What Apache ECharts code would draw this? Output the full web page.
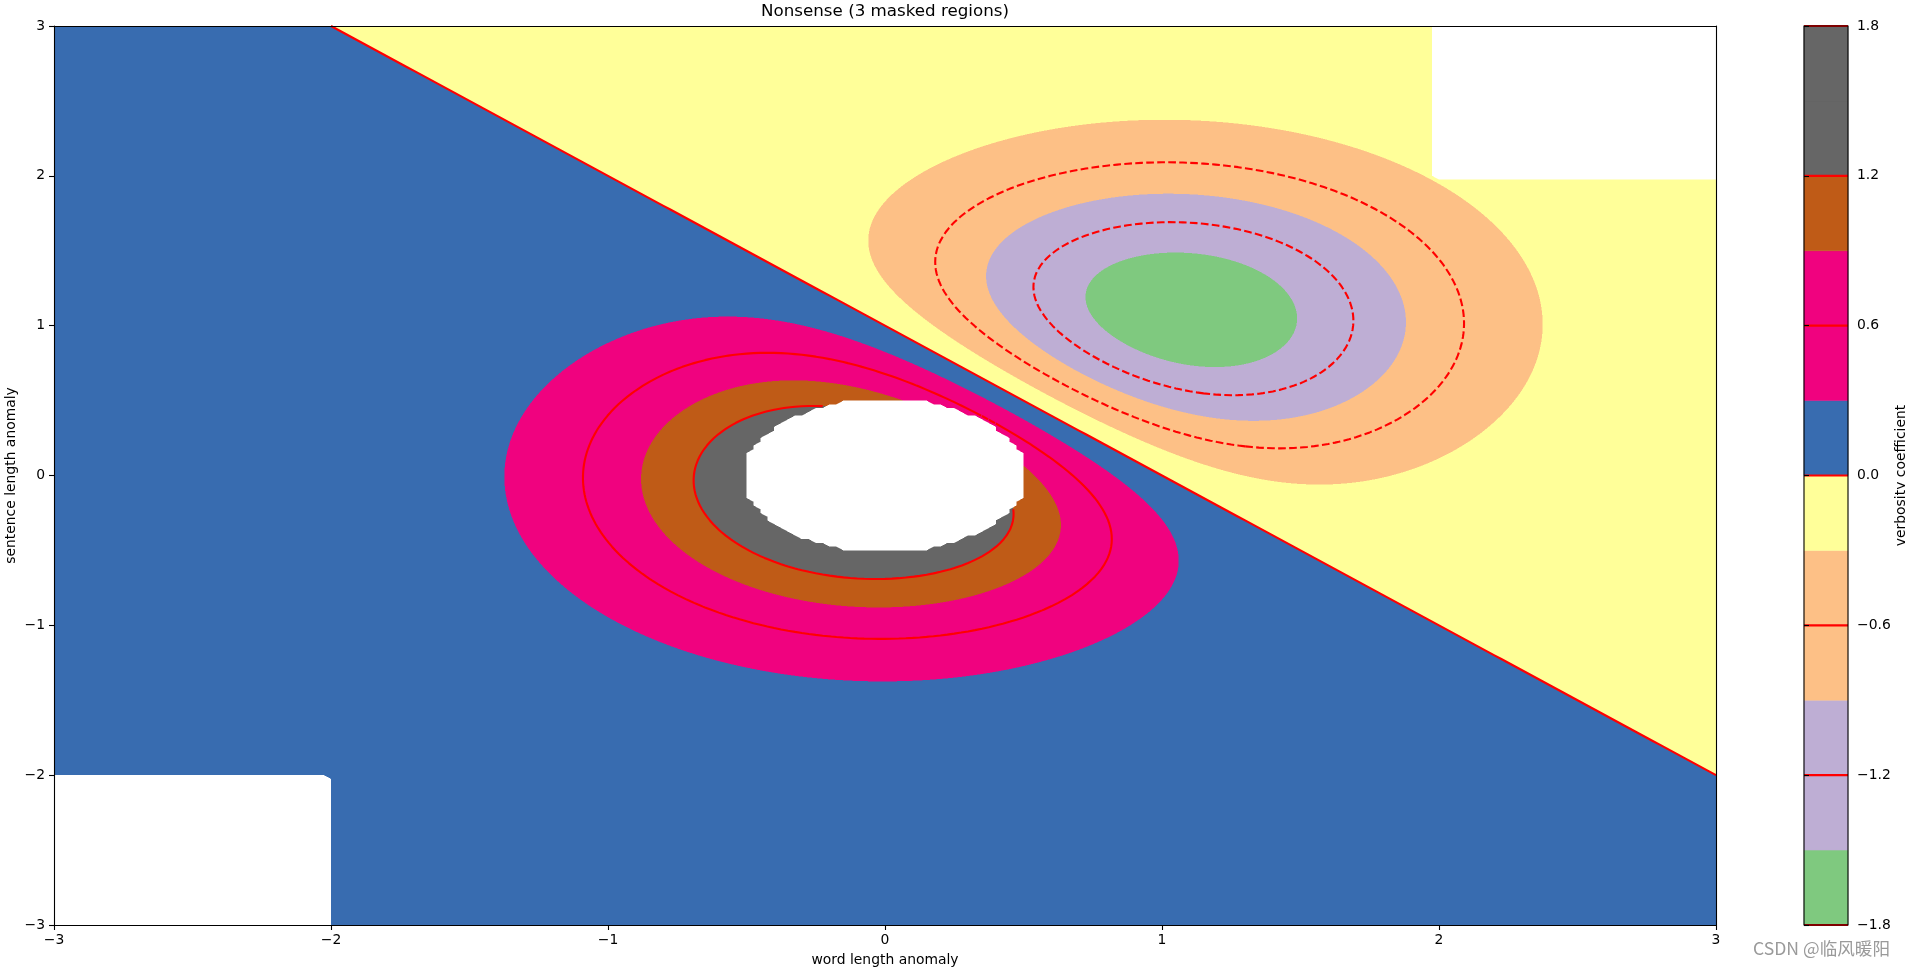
<!DOCTYPE html>
<html>
<head>
<meta charset="utf-8">
<script src="https://cdn.jsdelivr.net/npm/echarts@6/dist/echarts.min.js"></script>
<style>
html,body{margin:0;padding:0;background:#ffffff;}
#chart{width:1905px;height:969px;}
</style>
</head>
<body>
<div id="chart"></div>
<script>
// ---------------- data ----------------
const xTicks = [-3, -2, -1, 0, 1, 2, 3];
const yTicks = [-3, -2, -1, 0, 1, 2, 3];
// field = sum of gaussian bumps: amp * exp(-(x-cx)^2-(y-cy)^2)
const bumpX = [0, 1];
const bumpY = [0, 1];
const bumpAmp = [2, -2];
// sampling grid of the field
const gridStart = -3.0;
const gridStep = 0.025;
const gridCount = 241;
// filled contour levels and colours (Accent)
const fillLevels = [-1.8, -1.5, -1.2, -0.9, -0.6, -0.3, 0.0, 0.3, 0.6, 0.9, 1.2, 1.5, 1.8];
const fillColors = ['#7fc97f', '#beaed4', '#beaed4', '#fdc086', '#fdc086', '#ffff99',
                    '#386cb0', '#f0027f', '#f0027f', '#bf5b17', '#666666', '#666666'];
// line contour levels
const lineLevels = [-1.8, -1.2, -0.6, 0.0, 0.6, 1.2, 1.8];
// masked node regions [xmin, xmax, ymin, ymax] and masked circle [cx, cy, r]
const maskBoxes = [[2.0, 3.0, 2.0, 3.0], [-3.0, -2.025, -3.0, -2.025]];
const maskCircle = [0, 0, 0.5];
const cbarTicks = [-1.8, -1.2, -0.6, 0.0, 0.6, 1.2, 1.8];

// ---------------- field on grid ----------------
const N = gridCount;
const nb = bumpAmp.length;
function gx(i) { return gridStart + i * gridStep; }
function field(x, y) {
  let z = 0;
  for (let k = 0; k < nb; k++) z += bumpAmp[k] * Math.exp(-(x - bumpX[k]) * (x - bumpX[k]) - (y - bumpY[k]) * (y - bumpY[k]));
  return z;
}
const Z = new Float64Array(N * N);
const M = new Uint8Array(N * N);
for (let j = 0; j < N; j++) {
  for (let i = 0; i < N; i++) {
    const x = gx(i), y = gx(j);
    Z[j * N + i] = field(x, y);
    let m = 0;
    for (const b of maskBoxes) {
      if (x >= b[0] - 1e-9 && x <= b[1] + 1e-9 && y >= b[2] - 1e-9 && y <= b[3] + 1e-9) m = 1;
    }
    const dx = x - maskCircle[0], dy = y - maskCircle[1];
    if (Math.sqrt(dx * dx + dy * dy) < maskCircle[2]) m = 1;
    M[j * N + i] = m;
  }
}

// ---------------- contour lines (marching squares) ----------------
function traceLevel(level) {
  const adj = new Map();
  const pt = new Map();
  function addPt(id, xa, ya, za, xb, yb, zb) {
    if (!pt.has(id)) {
      const t = (level - za) / (zb - za);
      pt.set(id, [xa + t * (xb - xa), ya + t * (yb - ya)]);
    }
  }
  function link(p, q) {
    if (!adj.has(p)) adj.set(p, []);
    if (!adj.has(q)) adj.set(q, []);
    adj.get(p).push(q);
    adj.get(q).push(p);
  }
  for (let j = 0; j < N - 1; j++) {
    for (let i = 0; i < N - 1; i++) {
      const a = j * N + i, b = a + 1, c = a + N + 1, d = a + N;
      if (M[a] || M[b] || M[c] || M[d]) continue;
      const za = Z[a], zb = Z[b], zc = Z[c], zd = Z[d];
      const sa = za > level, sb = zb > level, sc = zc > level, sd = zd > level;
      const code = (sa ? 1 : 0) | (sb ? 2 : 0) | (sc ? 4 : 0) | (sd ? 8 : 0);
      if (code === 0 || code === 15) continue;
      const xa = gx(i), xb = gx(i + 1), ya = gx(j), yd = gx(j + 1);
      const eB = a * 2, eR = b * 2 + 1, eT = d * 2, eL = a * 2 + 1;
      const E = [];
      if (sa !== sb) { addPt(eB, xa, ya, za, xb, ya, zb); E.push(eB); }
      if (sb !== sc) { addPt(eR, xb, ya, zb, xb, yd, zc); E.push(eR); }
      if (sc !== sd) { addPt(eT, xa, yd, zd, xb, yd, zc); E.push(eT); }
      if (sd !== sa) { addPt(eL, xa, ya, za, xa, yd, zd); E.push(eL); }
      if (E.length === 2) { link(E[0], E[1]); }
      else if (E.length === 4) {
        const centerAbove = (za + zb + zc + zd) / 4 > level;
        if ((code === 5) === centerAbove) { link(eB, eR); link(eT, eL); }
        else { link(eL, eB); link(eR, eT); }
      }
    }
  }
  const visited = new Set();
  const lines = [];
  function walk(start) {
    const ids = [start];
    visited.add(start);
    let cur = start;
    while (true) {
      const nbs = adj.get(cur);
      let next = -1;
      for (const k of nbs) if (!visited.has(k)) { next = k; break; }
      if (next < 0) {
        if (ids.length > 2 && nbs.indexOf(start) >= 0) ids.push(start);
        break;
      }
      visited.add(next);
      ids.push(next);
      cur = next;
    }
    return ids.map(function (id) { return pt.get(id); });
  }
  for (const [id, nbs] of adj) if (nbs.length === 1 && !visited.has(id)) lines.push(walk(id));
  for (const [id] of adj) if (!visited.has(id)) lines.push(walk(id));
  return lines;
}

// ---------------- filled field image ----------------
function hexRgb(h) { return [parseInt(h.slice(1, 3), 16), parseInt(h.slice(3, 5), 16), parseInt(h.slice(5, 7), 16)]; }
const rgbTable = fillColors.map(hexRgb);
let cachedCanvas = null, cachedKey = '';
function buildFieldCanvas(W, H, xMin, xMax, yMin, yMax) {
  const key = W + 'x' + H;
  if (cachedCanvas && cachedKey === key) return cachedCanvas;
  const cv = document.createElement('canvas');
  cv.width = W; cv.height = H;
  const ctx = cv.getContext('2d');
  const img = ctx.createImageData(W, H);
  const dd = img.data;
  const colE = new Float64Array(W * nb), colI = new Int32Array(W), colU = new Float64Array(W);
  for (let px = 0; px < W; px++) {
    const x = xMin + (px + 0.5) / W * (xMax - xMin);
    for (let k = 0; k < nb; k++) colE[px * nb + k] = Math.exp(-(x - bumpX[k]) * (x - bumpX[k]));
    let i = Math.floor((x - gridStart) / gridStep);
    if (i < 0) i = 0; if (i > N - 2) i = N - 2;
    colI[px] = i; colU[px] = (x - gx(i)) / gridStep;
  }
  const rowE = new Float64Array(H * nb), rowJ = new Int32Array(H), rowV = new Float64Array(H);
  for (let py = 0; py < H; py++) {
    const y = yMax - (py + 0.5) / H * (yMax - yMin);
    for (let k = 0; k < nb; k++) rowE[py * nb + k] = Math.exp(-(y - bumpY[k]) * (y - bumpY[k]));
    let j = Math.floor((y - gridStart) / gridStep);
    if (j < 0) j = 0; if (j > N - 2) j = N - 2;
    rowJ[py] = j; rowV[py] = (y - gx(j)) / gridStep;
  }
  const lo = fillLevels[0], hi = fillLevels[fillLevels.length - 1];
  const nL = fillLevels.length;
  for (let py = 0; py < H; py++) {
    const j = rowJ[py], v = rowV[py];
    for (let px = 0; px < W; px++) {
      const i = colI[px];
      const a = j * N + i;
      const ma = M[a], mb = M[a + 1], mc = M[a + N + 1], md = M[a + N];
      const cnt = ma + mb + mc + md;
      if (cnt) {
        if (cnt >= 2) continue;
        const u = colU[px];
        if (ma && u + v < 1) continue;
        if (mb && (1 - u) + v < 1) continue;
        if (mc && (1 - u) + (1 - v) < 1) continue;
        if (md && u + (1 - v) < 1) continue;
      }
      let z = 0;
      for (let k = 0; k < nb; k++) z += bumpAmp[k] * colE[px * nb + k] * rowE[py * nb + k];
      if (z < lo || z > hi) continue;
      let b = 0;
      while (b < nL - 2 && z > fillLevels[b + 1]) b++;
      const c = rgbTable[b];
      const o = (py * W + px) * 4;
      dd[o] = c[0]; dd[o + 1] = c[1]; dd[o + 2] = c[2]; dd[o + 3] = 255;
    }
  }
  ctx.putImageData(img, 0, 0);
  cachedCanvas = cv; cachedKey = key;
  return cv;
}

// ---------------- chart ----------------
const FONT = 'DejaVu Sans';
const xMin = xTicks[0], xMax = xTicks[xTicks.length - 1];
const yMin = yTicks[0], yMax = yTicks[yTicks.length - 1];
function fmtMinus(v) { return (v < -1e-9 ? '\u2212' : '') + String(Math.abs(Math.round(v * 1000) / 1000)); }
function fmtCbar(v) { return (v < -1e-9 ? '\u2212' : '') + Math.abs(v).toFixed(1); }

const series = [];
series.push({
  type: 'custom',
  xAxisIndex: 0, yAxisIndex: 0,
  z: 1, silent: true, animation: false,
  data: [[xMin, yMin, xMax, yMax]],
  renderItem: function (params, api) {
    const p0 = api.coord([api.value(0), api.value(3)]);
    const p1 = api.coord([api.value(2), api.value(1)]);
    const w = p1[0] - p0[0], h = p1[1] - p0[1];
    const SS = 2;
    const cv = buildFieldCanvas(Math.round(w * SS), Math.round(h * SS), api.value(0), api.value(2), api.value(1), api.value(3));
    return { type: 'image', style: { image: cv, x: p0[0], y: p0[1], width: w, height: h } };
  }
});
for (const lev of lineLevels) {
  const lines = traceLevel(lev);
  for (const ln of lines) {
    if (ln.length < 2) continue;
    series.push({
      type: 'line', xAxisIndex: 0, yAxisIndex: 0,
      data: ln, showSymbol: false, symbol: 'none', silent: true, animation: false,
      z: 3,
      lineStyle: { color: '#ff0000', width: 2.1, type: lev < 0 ? [7.7, 3.3] : 'solid' }
    });
  }
}
// colorbar bands
series.push({
  type: 'custom', xAxisIndex: 2, yAxisIndex: 2, z: 2, silent: true, animation: false,
  data: fillColors.map(function (c, k) { return [fillLevels[k], fillLevels[k + 1], k]; }),
  renderItem: function (params, api) {
    const p0 = api.coord([0, api.value(1)]);
    const p1 = api.coord([1, api.value(0)]);
    return { type: 'rect', shape: { x: p0[0], y: p0[1], width: p1[0] - p0[0], height: p1[1] - p0[1] },
             style: { fill: fillColors[api.value(2)], stroke: fillColors[api.value(2)], lineWidth: 0.5 } };
  }
});
series.push({
  type: 'custom', xAxisIndex: 2, yAxisIndex: 2, z: 3, silent: true, animation: false,
  data: lineLevels.map(function (v) { return [v]; }),
  renderItem: function (params, api) {
    const p0 = api.coord([0, api.value(0)]);
    const p1 = api.coord([1, api.value(0)]);
    return { type: 'line', shape: { x1: p0[0], y1: p0[1], x2: p1[0], y2: p1[1] }, style: { stroke: '#ff0000', lineWidth: 2.1 } };
  }
});
series.push({
  type: 'custom', xAxisIndex: 2, yAxisIndex: 2, z: 4, silent: true, animation: false,
  data: [[fillLevels[0], fillLevels[fillLevels.length - 1]]],
  renderItem: function (params, api) {
    const p0 = api.coord([0, api.value(1)]);
    const p1 = api.coord([1, api.value(0)]);
    return { type: 'rect', shape: { x: p0[0], y: p0[1], width: p1[0] - p0[0], height: p1[1] - p0[1] },
             style: { fill: 'none', stroke: '#000000', lineWidth: 1.1 } };
  }
});

const axisLabelStyle = { color: '#000', fontFamily: FONT, fontSize: 13.9 };
const option = {
  backgroundColor: '#ffffff',
  animation: false,
  graphic: [
    { type: 'text', x: 885, y: 3, z: 100,
      style: { text: 'Nonsense (3 masked regions)', align: 'center', verticalAlign: 'top', fill: '#000', fontFamily: FONT, fontSize: 16.7 } },
    { type: 'text', x: 1753, y: 940, z: 100,
      style: { text: 'CSDN @临风暖阳', fill: '#9a9a9a', fontFamily: 'Noto Sans CJK SC', fontSize: 17.6 } }
  ],
  grid: [
    { left: 54, top: 26, width: 1662, height: 899, containLabel: false, outerBoundsMode: 'none' },
    { left: 1804, top: 26, width: 44, height: 899, containLabel: false, outerBoundsMode: 'none' }
  ],
  xAxis: [
    { type: 'value', gridIndex: 0, min: xMin, max: xMax, interval: 1, position: 'bottom', z: 10,
      axisLine: { show: true, onZero: false, lineStyle: { color: '#000', width: 1.1 } },
      axisTick: { show: true, inside: false, length: 5, lineStyle: { color: '#000', width: 1.1 } },
      axisLabel: Object.assign({ margin: 8, formatter: fmtMinus }, axisLabelStyle),
      splitLine: { show: false },
      name: 'word length anomaly', nameLocation: 'middle', nameGap: 28,
      nameTextStyle: { color: '#000', fontFamily: FONT, fontSize: 13.9 } },
    { type: 'value', gridIndex: 0, min: xMin, max: xMax, position: 'top', z: 10,
      axisLine: { show: true, onZero: false, lineStyle: { color: '#000', width: 1.1 } },
      axisTick: { show: false }, axisLabel: { show: false }, splitLine: { show: false } },
    { type: 'value', gridIndex: 1, min: 0, max: 1, show: false }
  ],
  yAxis: [
    { type: 'value', gridIndex: 0, min: yMin, max: yMax, interval: 1, position: 'left', z: 10,
      axisLine: { show: true, onZero: false, lineStyle: { color: '#000', width: 1.1 } },
      axisTick: { show: true, inside: false, length: 5, lineStyle: { color: '#000', width: 1.1 } },
      axisLabel: Object.assign({ margin: 9, formatter: fmtMinus }, axisLabelStyle),
      splitLine: { show: false },
      name: 'sentence length anomaly', nameLocation: 'middle', nameGap: 36, nameMoveOverlap: false,
      nameTextStyle: { color: '#000', fontFamily: FONT, fontSize: 13.9 } },
    { type: 'value', gridIndex: 0, min: yMin, max: yMax, position: 'right', z: 10,
      axisLine: { show: true, onZero: false, lineStyle: { color: '#000', width: 1.1 } },
      axisTick: { show: false }, axisLabel: { show: false }, splitLine: { show: false } },
    { type: 'value', gridIndex: 1, min: cbarTicks[0], max: cbarTicks[cbarTicks.length - 1], interval: 0.6,
      position: 'right', z: 10,
      axisLine: { show: false },
      axisTick: { show: true, inside: false, length: 5, lineStyle: { color: '#000', width: 1.1 } },
      axisLabel: Object.assign({ margin: 9, formatter: fmtCbar }, axisLabelStyle),
      splitLine: { show: false },
      name: 'verbosity coefficient', nameLocation: 'middle', nameGap: 45, nameRotate: 90,
      nameTextStyle: { color: '#000', fontFamily: FONT, fontSize: 13.9 } }
  ],
  series: series
};
const chart = echarts.init(document.getElementById('chart'), null, { renderer: 'canvas' });
chart.setOption(option);
</script>
</body>
</html>
